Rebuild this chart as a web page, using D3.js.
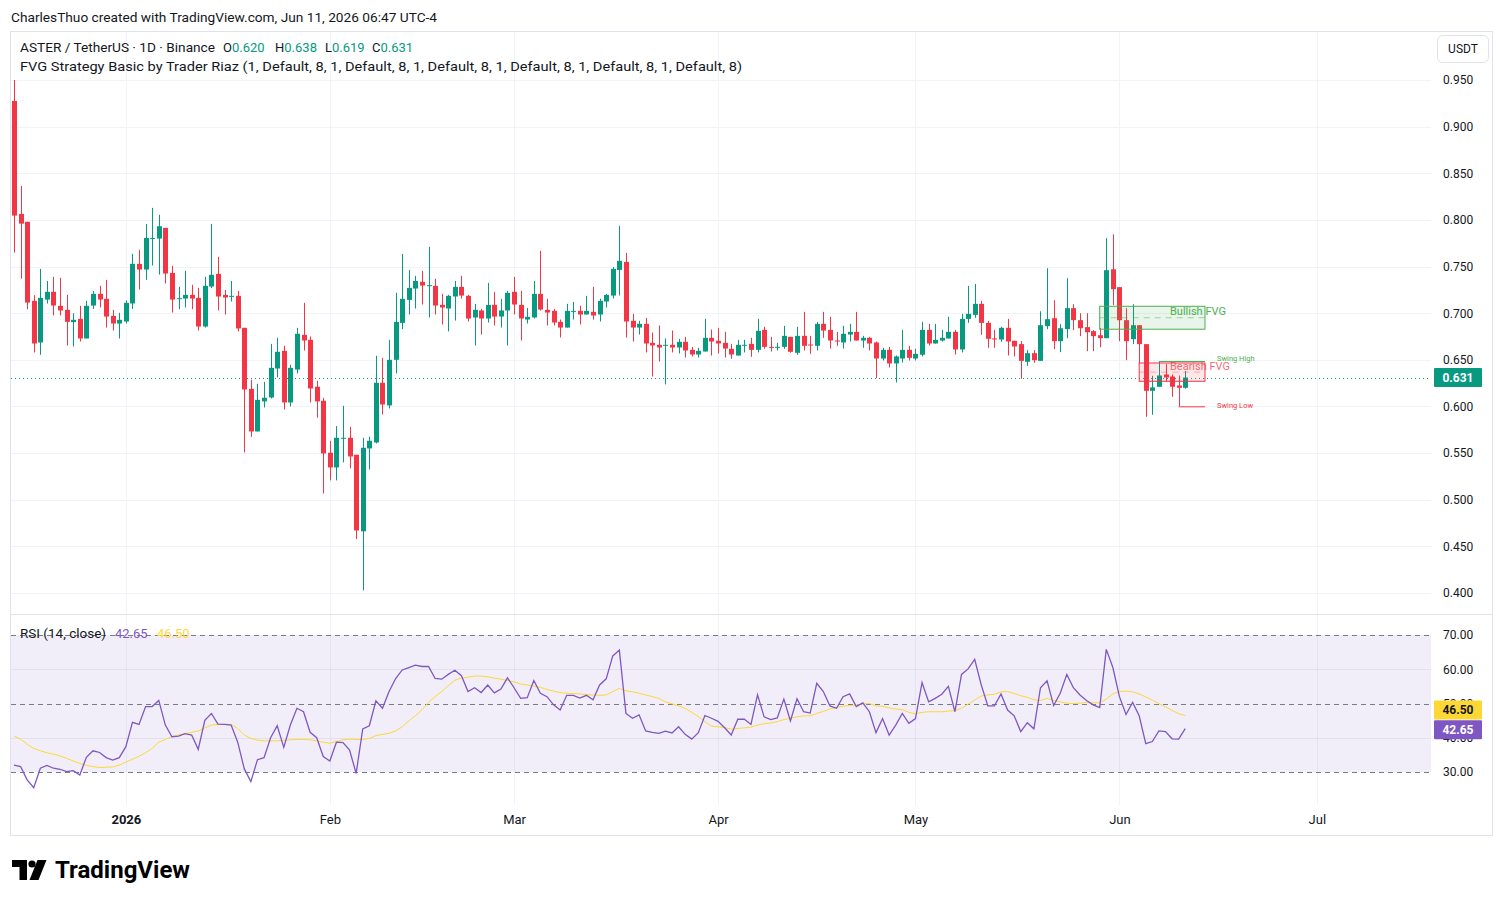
<!DOCTYPE html>
<html><head><meta charset="utf-8">
<script src="https://cdn.jsdelivr.net/npm/d3@7"></script>
<style>
body{margin:0;background:#fff;}
svg{display:block;}
text{font-family:Roboto,"Noto Sans",sans-serif;}
</style>
</head><body>
<svg id="c" width="1504" height="904"></svg>
<script>
// ---------------- DATA ----------------
const startDate = "2025-12-15"; // first daily candle
const open = [0.9275,0.8064,0.798,0.7132,0.6686,0.7146,0.7229,0.7079,0.7036,0.6904,
0.6939,0.6729,0.7082,0.7207,0.7154,0.6971,0.6889,0.6911,0.7104,0.7529,
0.7468,0.7804,0.78,0.7914,0.7432,0.7154,0.7157,0.7196,0.7164,0.6857,
0.7286,0.7421,0.7196,0.7182,0.7186,0.6843,0.6189,0.5732,0.6054,0.6096,
0.6407,0.6596,0.6043,0.6396,0.6768,0.6714,0.6211,0.6061,0.5504,0.5346,
0.5657,0.5664,0.5482,0.4661,0.555,0.5614,0.6254,0.6011,0.65,0.6896,
0.7143,0.7264,0.7336,0.7296,0.7293,0.7089,0.705,0.7179,0.7282,0.7186,
0.6954,0.7029,0.6943,0.7089,0.6964,0.7029,0.7229,0.7089,0.6932,0.6954,
0.7207,0.7036,0.7025,0.6907,0.6846,0.7021,0.7025,0.6986,0.7014,0.6986,
0.7125,0.7189,0.7464,0.755,0.6918,0.6846,0.6886,0.6682,0.6661,0.6657,
0.6661,0.6632,0.6693,0.6607,0.6557,0.6589,0.6736,0.6704,0.6682,0.6618,
0.6546,0.6657,0.6671,0.6607,0.6821,0.6639,0.6629,0.6639,0.6746,0.6575,
0.6757,0.6664,0.665,0.6886,0.6821,0.6707,0.6686,0.6771,0.68,0.6707,
0.6736,0.6686,0.6514,0.6607,0.6461,0.6514,0.6607,0.6514,0.6554,0.6821,
0.6675,0.6707,0.6729,0.68,0.6611,0.6939,0.6982,0.71,0.6896,0.6729,
0.6718,0.6843,0.6704,0.6668,0.6479,0.6571,0.6489,0.6861,0.6946,0.67,
0.6829,0.7054,0.6925,0.685,0.6807,0.6764,0.6732,0.7471,0.7279,0.6925,
0.6721,0.6871,0.6668,0.6168,0.6211,0.6343,0.6321,0.6225,0.620];
const high = [0.95,0.8364,0.798,0.7193,0.7475,0.7346,0.7389,0.7379,0.7196,0.70,
0.7079,0.7132,0.7239,0.7293,0.7357,0.7036,0.7004,0.7136,0.7636,0.7679,
0.7957,0.8129,0.8054,0.7914,0.7507,0.7282,0.7454,0.7304,0.7271,0.7389,
0.7957,0.7604,0.725,0.7346,0.7239,0.6843,0.6286,0.6243,0.6264,0.6671,
0.6736,0.665,0.6446,0.6843,0.7111,0.675,0.6275,0.6093,0.5632,0.5789,
0.6007,0.5782,0.5482,0.5664,0.5675,0.6543,0.6521,0.6714,0.7218,0.7636,
0.7464,0.74,0.7454,0.7711,0.7368,0.7207,0.7196,0.7346,0.74,0.7196,
0.71,0.7046,0.7325,0.7229,0.7154,0.7239,0.7389,0.7239,0.7057,0.7346,
0.7668,0.7154,0.7046,0.6932,0.71,0.7121,0.7079,0.7186,0.7282,0.7154,
0.7207,0.7496,0.7936,0.7646,0.6993,0.6918,0.695,0.6793,0.6868,0.6729,
0.6814,0.6725,0.6746,0.6639,0.6629,0.6939,0.6825,0.6843,0.68,0.6671,
0.6714,0.6714,0.6736,0.6939,0.6854,0.6746,0.6682,0.6864,0.6746,0.6854,
0.7014,0.6757,0.6907,0.7014,0.6961,0.68,0.6864,0.6886,0.7014,0.6757,
0.6746,0.6696,0.6629,0.6639,0.6546,0.6821,0.665,0.6618,0.6907,0.6886,
0.6886,0.6821,0.6961,0.6821,0.6993,0.7293,0.7314,0.7132,0.6918,0.6821,
0.6854,0.6939,0.6704,0.67,0.6604,0.6604,0.7021,0.7482,0.7139,0.6882,
0.7375,0.7096,0.70,0.70,0.6818,0.6839,0.7804,0.7846,0.7279,0.7054,
0.7096,0.6871,0.6668,0.6329,0.6482,0.6454,0.6343,0.6332,0.638];
const low = [0.765,0.737,0.7043,0.6579,0.6554,0.7104,0.6975,0.6975,0.6654,0.6643,
0.6696,0.6729,0.7046,0.7061,0.6846,0.6814,0.6729,0.6889,0.7046,0.7254,
0.7357,0.7511,0.7414,0.7318,0.7007,0.7043,0.7061,0.7043,0.6814,0.6846,
0.7268,0.7029,0.6986,0.7125,0.6804,0.5507,0.5675,0.5732,0.5989,0.6086,
0.6311,0.5968,0.60,0.6354,0.66,0.6043,0.5879,0.5068,0.5207,0.5207,
0.54,0.5336,0.4579,0.4029,0.5325,0.5604,0.5914,0.5979,0.6354,0.6829,
0.6986,0.705,0.7093,0.6954,0.6986,0.6879,0.6804,0.6921,0.7157,0.6911,
0.6654,0.6771,0.69,0.6868,0.6846,0.6654,0.6986,0.6707,0.6889,0.6943,
0.7029,0.6868,0.6868,0.6739,0.6846,0.6932,0.6879,0.6986,0.6932,0.6911,
0.7061,0.7157,0.7189,0.6739,0.6696,0.6771,0.6579,0.6321,0.6482,0.6236,
0.6579,0.6568,0.6525,0.6536,0.6525,0.6589,0.6546,0.6568,0.6525,0.6511,
0.6546,0.6579,0.6532,0.6579,0.6618,0.6589,0.66,0.6618,0.6575,0.6554,
0.66,0.6564,0.66,0.6736,0.6621,0.665,0.6621,0.6696,0.6707,0.6629,
0.66,0.6304,0.6493,0.6418,0.6257,0.6471,0.6493,0.6493,0.6536,0.6654,
0.6675,0.6696,0.6729,0.6557,0.6579,0.6896,0.695,0.6768,0.6629,0.6629,
0.6693,0.6546,0.6536,0.6296,0.6436,0.6468,0.6489,0.6829,0.6614,0.6582,
0.6732,0.6818,0.6754,0.6593,0.6593,0.6636,0.6732,0.7086,0.67,0.6496,
0.6668,0.6466,0.5889,0.5911,0.6211,0.6268,0.6104,0.6004,0.619];
const close = [0.8046,0.796,0.7114,0.6675,0.7164,0.7229,0.7082,0.7029,0.6907,0.6929,
0.6729,0.7079,0.7207,0.7146,0.6964,0.6889,0.6929,0.7111,0.7529,0.7468,
0.7807,0.7807,0.7932,0.7425,0.7146,0.7161,0.7196,0.7157,0.6857,0.7293,
0.7411,0.7179,0.7168,0.7186,0.6836,0.6182,0.5732,0.6071,0.6093,0.6414,
0.6586,0.6043,0.6414,0.6779,0.6707,0.6193,0.6054,0.5496,0.5346,0.5664,
0.5664,0.5464,0.4671,0.5557,0.5632,0.6254,0.6021,0.65,0.6907,0.7154,
0.7271,0.7346,0.7296,0.73,0.7082,0.7061,0.7186,0.7282,0.7189,0.6943,
0.7036,0.6943,0.7089,0.6964,0.7029,0.7218,0.7093,0.6943,0.6961,0.7207,
0.7039,0.7007,0.69,0.6846,0.7025,0.7025,0.6986,0.7025,0.6975,0.7132,
0.7196,0.7475,0.7561,0.6911,0.6846,0.6886,0.6675,0.6654,0.6632,0.6661,
0.6632,0.6693,0.66,0.6557,0.6596,0.6736,0.6696,0.6675,0.6621,0.6557,
0.6661,0.6661,0.6607,0.6811,0.6639,0.6629,0.6639,0.6757,0.6586,0.6757,
0.665,0.6661,0.6886,0.6814,0.6707,0.6704,0.6779,0.68,0.6707,0.6736,
0.6675,0.6514,0.6607,0.6461,0.6536,0.6607,0.6521,0.6564,0.6821,0.6675,
0.6714,0.6736,0.68,0.6611,0.6939,0.6993,0.71,0.6896,0.6725,0.6725,
0.6843,0.6696,0.6643,0.6489,0.6571,0.6496,0.6871,0.6936,0.67,0.6839,
0.7054,0.6925,0.6839,0.6796,0.6754,0.6732,0.7461,0.7257,0.6925,0.67,
0.6871,0.6668,0.6168,0.6204,0.6332,0.6311,0.6211,0.620,0.631];
const rsi = [32.0,31.6,27.7,25.4,31.1,31.9,31.1,30.8,30.1,30.4,
29.1,34.3,36.2,35.7,34.2,33.5,34.2,37.4,44.5,43.9,
49.1,49.1,50.9,43.7,40.3,40.5,41.2,40.8,36.6,45.1,
47.1,44.0,43.9,43.7,38.7,30.9,27.2,33.6,34.2,40.0,
43.5,37.2,43.7,48.6,47.6,41.6,40.0,34.5,33.2,38.7,
38.6,36.4,29.6,42.6,43.5,50.8,48.6,53.5,57.3,59.8,
60.5,61.2,60.8,60.8,57.3,57.1,58.5,59.7,58.1,53.5,
54.6,53.2,55.4,53.1,54.2,57.5,54.6,51.5,51.7,56.7,
53.0,52.0,49.6,48.1,52.4,52.4,51.6,52.4,51.1,55.4,
57.2,63.9,65.6,47.1,45.7,46.7,42.0,41.6,41.3,41.9,
41.4,43.2,41.0,39.6,41.5,46.5,45.7,44.8,42.9,40.8,
45.4,45.4,43.9,52.5,46.1,45.3,45.8,51.3,44.9,51.4,
47.6,47.2,55.9,53.5,49.3,48.6,52.0,52.8,49.1,50.2,
47.6,41.5,45.6,40.8,43.7,47.1,44.2,45.6,56.1,50.5,
51.5,52.7,55.0,47.6,58.5,60.1,62.9,55.4,49.3,49.3,
52.8,48.1,46.4,41.8,44.4,42.6,54.6,56.6,49.4,53.0,
58.5,54.6,52.5,50.9,49.6,48.8,65.8,60.5,52.0,46.8,
50.3,46.4,38.3,38.9,42.0,41.8,39.7,39.6,42.65];
const rsiMa = [40.5,39.6,38.1,36.9,36.2,35.6,35.2,34.7,34.0,33.2,
32.5,31.9,31.6,31.3,31.4,31.5,32.0,32.9,33.7,34.6,
35.6,36.9,38.7,39.5,40.3,40.8,41.2,41.6,42.0,42.9,
43.7,43.9,43.9,43.9,42.7,40.8,39.8,39.3,39.1,39.1,
39.1,39.2,39.4,39.5,39.5,39.4,39.1,38.7,38.4,38.9,
39.4,39.6,39.5,39.5,39.8,40.6,41.0,41.3,42.0,43.2,
44.9,46.4,48.2,50.3,52.0,53.5,55.2,56.8,57.4,57.7,
58.0,58.0,57.8,57.4,57.1,56.7,56.3,55.7,55.4,55.1,
54.7,54.1,53.6,53.2,53.0,52.9,52.8,52.6,52.5,52.4,
52.5,53.5,54.4,53.7,53.4,53.0,52.5,52.0,51.5,50.5,
49.9,49.3,48.6,47.4,46.2,44.7,43.4,43.2,43.0,42.5,
42.7,42.9,43.1,43.7,44.1,44.3,44.7,45.3,45.7,46.1,
46.4,46.4,47.1,47.7,48.4,48.8,49.2,49.4,49.5,49.9,
50.0,49.3,49.2,48.7,48.4,48.2,47.4,47.0,47.4,47.6,
47.6,47.6,47.8,47.9,48.6,49.8,51.0,52.2,52.5,52.7,
53.4,53.5,52.9,52.3,51.8,51.1,50.9,51.5,50.9,50.5,
50.1,50.0,50.1,50.3,50.2,50.2,51.3,52.8,53.5,53.6,
53.4,52.8,51.9,51.0,50.0,49.0,48.0,47.0,46.50];
const priceTicks = [0.40,0.45,0.50,0.55,0.60,0.65,0.70,0.75,0.80,0.85,0.90,0.95];
const rsiTicks = [30,40,50,60,70];
const rsiBands = [70,50,30];
const monthDates = ["2026-01-01","2026-02-01","2026-03-01","2026-04-01","2026-05-01","2026-06-01","2026-07-01"];
const monthLabels = ["2026","Feb","Mar","Apr","May","Jun","Jul"];
const fvgStart = ["2026-05-29","2026-06-04"];
const fvgEnd = ["2026-06-14","2026-06-14"];
const fvgTop = [0.7074,0.6466];
const fvgBottom = [0.6828,0.6270];
const fvgLabels = ["Bullish FVG","Bearish FVG"];
const swingStart = ["2026-06-07","2026-06-10"];
const swingEnd = ["2026-06-14","2026-06-14"];
const swingPrice = [0.6482,0.5996];
const swingLabels = ["Swing High","Swing Low"];
const lastPrice = 0.631;
const rsiLast = 42.65, rsiMaLast = 46.50;

// ---------------- SETUP ----------------
const UP = "#089981", DN = "#f23645", TXT = "#131722", GRID = "#f0f3fa", BORDER = "#e0e3eb";
const svg = d3.select("#c");
svg.append("rect").attr("width",1504).attr("height",904).attr("fill","#fff");

const parse = d3.utcParse("%Y-%m-%d");
const d0 = parse(startDate);
const dates = close.map((_, i) => d3.utcDay.offset(d0, i));
const plotL = 10, plotR = 1431, priceTop = 31, priceBot = 614, rsiBot = 805;

const x = d3.scaleUtc().domain([dates[0], dates[dates.length-1]]).range([14, 14 + (dates.length-1)*6.58]);
const y = d3.scaleLinear().domain([0.40,0.95]).range([593,80]);
const yr = d3.scaleLinear().domain([30,70]).range([772,635]);

// watermark header
svg.append("text").attr("x",11).attr("y",21.5).attr("font-size",13).attr("fill",TXT)
  .attr("textLength",426).attr("lengthAdjust","spacingAndGlyphs")
  .text("CharlesThuo created with TradingView.com, Jun 11, 2026 06:47 UTC-4");

// outer frame
svg.append("rect").attr("x",10.5).attr("y",priceTop+0.5).attr("width",1482).attr("height",835-priceTop)
  .attr("fill","none").attr("stroke",BORDER);

// clip for plot
svg.append("clipPath").attr("id","pc").append("rect").attr("x",plotL+1).attr("y",priceTop).attr("width",plotR-plotL-1).attr("height",priceBot-priceTop);
svg.append("clipPath").attr("id","rc").append("rect").attr("x",plotL+1).attr("y",priceBot).attr("width",plotR-plotL-1).attr("height",rsiBot-priceBot);

// horizontal price grid
const gGrid = svg.append("g");
gGrid.selectAll("line.h").data(priceTicks).join("line")
  .attr("x1",plotL+1).attr("x2",plotR).attr("y1",d=>Math.round(y(d))+0.5).attr("y2",d=>Math.round(y(d))+0.5)
  .attr("stroke",GRID);
// vertical month grid
const mDates = monthDates.map(parse);
gGrid.selectAll("line.v").data(mDates).join("line")
  .attr("x1",d=>Math.round(x(d))+0.5).attr("x2",d=>Math.round(x(d))+0.5).attr("y1",priceTop+1).attr("y2",rsiBot)
  .attr("stroke",GRID);

// RSI pane band
svg.append("rect").attr("x",plotL+1).attr("width",plotR-plotL-1).attr("y",yr(70)).attr("height",yr(30)-yr(70))
  .attr("fill","rgba(126,87,194,0.1)");
svg.selectAll("line.rg").data([60,40]).join("line")
  .attr("x1",plotL+1).attr("x2",plotR).attr("y1",d=>Math.round(yr(d))+0.5).attr("y2",d=>Math.round(yr(d))+0.5)
  .attr("stroke","rgba(120,123,134,0.12)");
svg.selectAll("line.rb").data(rsiBands).join("line")
  .attr("x1",plotL+1).attr("x2",plotR).attr("y1",d=>Math.round(yr(d))+0.5).attr("y2",d=>Math.round(yr(d))+0.5)
  .attr("stroke","#787b86").attr("stroke-dasharray","5,4");

// pane separator
svg.append("line").attr("x1",plotL).attr("x2",1493).attr("y1",priceBot+0.5).attr("y2",priceBot+0.5).attr("stroke",BORDER);

// current price dotted line
svg.append("line").attr("x1",plotL+1).attr("x2",plotR).attr("y1",Math.round(y(lastPrice))+0.5).attr("y2",Math.round(y(lastPrice))+0.5)
  .attr("stroke",UP).attr("stroke-dasharray","1,3");

// candles
const gC = svg.append("g").attr("clip-path","url(#pc)");
const idx = d3.range(close.length);
gC.selectAll("line.w").data(idx).join("line")
  .attr("x1",i=>Math.round(x(dates[i]))+0.5).attr("x2",i=>Math.round(x(dates[i]))+0.5)
  .attr("y1",i=>y(high[i])).attr("y2",i=>y(low[i]))
  .attr("stroke",i=>close[i]>=open[i]?UP:DN).attr("stroke-width",1);
gC.selectAll("rect.b").data(idx).join("rect")
  .attr("x",i=>Math.round(x(dates[i]))-2).attr("width",5)
  .attr("y",i=>y(Math.max(open[i],close[i])))
  .attr("height",i=>Math.max(1,Math.abs(y(open[i])-y(close[i]))))
  .attr("fill",i=>close[i]>=open[i]?UP:DN);

// FVG boxes
const gF = svg.append("g");
fvgLabels.forEach((lab, k) => {
  const bull = k === 0;
  const col = bull ? "#4caf50" : DN;
  const x1 = x(parse(fvgStart[k])), x2 = x(parse(fvgEnd[k]));
  const y1 = y(fvgTop[k]), y2 = y(fvgBottom[k]);
  gF.append("rect").attr("x",x1).attr("y",y1).attr("width",x2-x1).attr("height",y2-y1)
    .attr("fill",bull?"rgba(76,175,80,0.12)":"rgba(242,54,69,0.12)").attr("stroke",col).attr("stroke-width",1);
  gF.append("line").attr("x1",x1).attr("x2",x2).attr("y1",(y1+y2)/2).attr("y2",(y1+y2)/2)
    .attr("stroke",bull?"rgba(76,175,80,0.5)":"rgba(242,54,69,0.35)").attr("stroke-dasharray","6,5");
  gF.append("text").attr("x",x2-35).attr("y",y1+(bull?9:7)).attr("font-size",11)
    .attr("fill",bull?"#4caf50":"rgba(242,54,69,0.75)").text(lab);
});
swingLabels.forEach((lab, k) => {
  const col = k === 0 ? "#4caf50" : DN;
  const x1 = x(parse(swingStart[k])), x2 = x(parse(swingEnd[k]));
  gF.append("line").attr("x1",x1).attr("x2",x2).attr("y1",y(swingPrice[k])).attr("y2",y(swingPrice[k]))
    .attr("stroke",col).attr("stroke-width",1);
  gF.append("text").attr("x",x2+12).attr("y",y(swingPrice[k])+(k===0?0:1)).attr("font-size",7.5).attr("fill",col).text(lab);
});

// RSI lines
const gR = svg.append("g").attr("clip-path","url(#rc)");
gR.append("path").datum(idx).attr("fill","none").attr("stroke","#fdd835").attr("stroke-width",1)
  .attr("d",d3.line().x(i=>x(dates[i])).y(i=>yr(rsiMa[i])));
gR.append("path").datum(idx).attr("fill","none").attr("stroke","#7e57c2").attr("stroke-width",1.3)
  .attr("d",d3.line().x(i=>x(dates[i])).y(i=>yr(rsi[i])));

// legends
const leg = svg.append("text").attr("x",20).attr("y",51.5).attr("font-size",13).attr("fill",TXT);
leg.append("tspan").attr("textLength",195).attr("lengthAdjust","spacingAndGlyphs").text("ASTER / TetherUS · 1D · Binance");
[["O",open[open.length-1],223],["H",high[high.length-1],275],["L",low[low.length-1],325],["C",close[close.length-1],372]].forEach(([k,v,px])=>{
  leg.append("tspan").attr("x",px).text(k);
  leg.append("tspan").attr("fill",UP).text(v.toFixed(3));
});
svg.append("text").attr("x",20).attr("y",70.5).attr("font-size",13).attr("fill",TXT)
  .attr("textLength",722).attr("lengthAdjust","spacingAndGlyphs")
  .text("FVG Strategy Basic by Trader Riaz (1, Default, 8, 1, Default, 8, 1, Default, 8, 1, Default, 8, 1, Default, 8, 1, Default, 8)");
const rl = svg.append("text").attr("x",20).attr("y",637.5).attr("font-size",13).attr("fill",TXT);
rl.append("tspan").attr("textLength",86).attr("lengthAdjust","spacingAndGlyphs").text("RSI (14, close)");
rl.append("tspan").attr("x",115).attr("fill","#7e57c2").text(rsiLast.toFixed(2));
rl.append("tspan").attr("x",157).attr("fill","#fdd835").text(rsiMaLast.toFixed(2));

// right price axis
const axP = d3.axisRight(y).tickValues(priceTicks).tickSize(0).tickPadding(0).tickFormat(d3.format(".3f"));
const gAP = svg.append("g").attr("transform","translate(1443,0)").call(axP);
gAP.select(".domain").remove();
gAP.selectAll("text").attr("font-family","'DejaVu Sans',sans-serif").attr("font-size",12).attr("fill",TXT);

const axR = d3.axisRight(yr).tickValues(rsiTicks).tickSize(0).tickPadding(0).tickFormat(d3.format(".2f"));
const gAR = svg.append("g").attr("transform","translate(1443,0)").call(axR);
gAR.select(".domain").remove();
gAR.selectAll("text").attr("font-family","'DejaVu Sans',sans-serif").attr("font-size",12).attr("fill",TXT);

// USDT button
svg.append("rect").attr("x",1437.5).attr("y",35.5).attr("width",51).attr("height",27).attr("rx",5)
  .attr("fill","#fff").attr("stroke",BORDER);
svg.append("text").attr("x",1463).attr("y",53).attr("text-anchor","middle").attr("font-family","'DejaVu Sans',sans-serif")
  .attr("font-size",12).attr("fill",TXT).text("USDT");

// price labels on axis
function axisLabel(yc, bg, fg, txt){
  svg.append("rect").attr("x",1434).attr("y",yc-9.5).attr("width",48).attr("height",19).attr("fill",bg).attr("rx",1);
  svg.append("text").attr("x",1458).attr("y",yc+4.5).attr("text-anchor","middle").attr("font-family","'DejaVu Sans',sans-serif")
    .attr("font-size",12).attr("font-weight","bold").attr("fill",fg).text(txt);
}
axisLabel(y(lastPrice), UP, "#fff", lastPrice.toFixed(3));
axisLabel(yr(rsiMaLast)-5.5, "#fdd835", TXT, rsiMaLast.toFixed(2));
axisLabel(yr(rsiLast)+1, "#7e57c2", "#fff", rsiLast.toFixed(2));

// time axis
const axT = d3.axisBottom(x).tickValues(mDates).tickSize(0).tickPadding(0).tickFormat((d,i)=>monthLabels[i]);
const gAT = svg.append("g").attr("transform","translate(0,815)").call(axT);
gAT.select(".domain").remove();
gAT.selectAll("text").attr("font-size",13).attr("fill",TXT).attr("font-weight",(d,i)=>i===0?"bold":"normal");

// TradingView logo
const lg = svg.append("g").attr("fill","#000");
lg.append("path").attr("d","M12 860h15v20h-7.5v-13h-7.5z");
lg.append("circle").attr("cx",32).attr("cy",864).attr("r",3.6);
lg.append("path").attr("d","M37.5 860h9l-8 20h-9z");
svg.append("text").attr("x",55).attr("y",878).attr("font-size",24).attr("font-weight","bold").attr("fill","#000")
  .attr("textLength",135).attr("lengthAdjust","spacingAndGlyphs").text("TradingView");
</script>
</body></html>
